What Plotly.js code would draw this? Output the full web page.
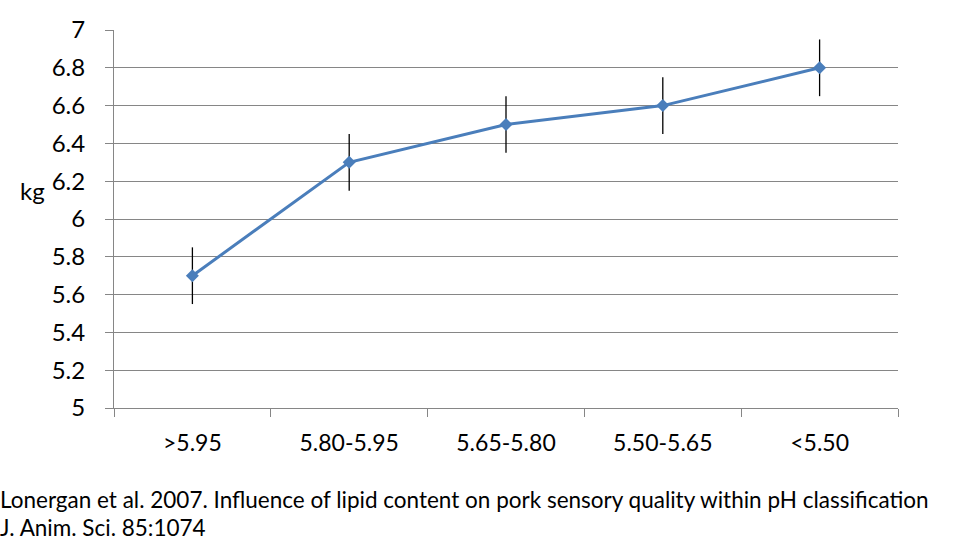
<!DOCTYPE html>
<html>
<head>
<meta charset="utf-8">
<script src="https://cdn.plot.ly/plotly-3.0.1.min.js"></script>
<style>
  html, body { margin: 0; padding: 0; background: #fff; }
  #chart { width: 973px; height: 540px; }
</style>
</head>
<body>
<div id="chart"></div>
<script>
const phClasses = ['>5.95', '5.80-5.95', '5.65-5.80', '5.50-5.65', '<5.50'];
const shearForce = [5.7, 6.3, 6.5, 6.6, 6.8];
const errorSize = [0.15, 0.15, 0.15, 0.15, 0.15];
const yTicks = [5, 5.2, 5.4, 5.6, 5.8, 6, 6.2, 6.4, 6.6, 6.8, 7];
const yTickText = ['5', '5.2', '5.4', '5.6', '5.8', '6', '6.2', '6.4', '6.6', '6.8', '7'];
const captionLines = [
  'Lonergan et al. 2007. Influence of lipid content on pork sensory quality within pH classification',
  'J. Anim. Sci. 85:1074'
];

const font = 'Lato, "Open Sans", sans-serif';

const series = {
  x: phClasses,
  y: shearForce,
  type: 'scatter',
  mode: 'lines+markers',
  line: { color: '#4A7EBB', width: 3 },
  marker: { symbol: 'diamond', size: 10, color: '#4A7EBB' },
  error_y: { type: 'data', array: errorSize, visible: true, color: '#000', thickness: 1.3, width: 0 },
  hoverinfo: 'x+y',
  showlegend: false
};

const layout = {
  width: 973,
  height: 540,
  margin: { l: 114, r: 75, t: 30, b: 132 },
  paper_bgcolor: '#fff',
  plot_bgcolor: '#fff',
  font: { family: font, size: 23, color: '#000' },
  xaxis: {
    type: 'category',
    range: [-0.5, 4.5],
    showgrid: false,
    showline: true,
    linecolor: '#868686',
    linewidth: 1,
    ticks: 'outside',
    tickson: 'boundaries',
    ticklen: 8,
    tickcolor: '#868686',
    ticklabelstandoff: 14,
    tickfont: { family: font, size: 23 },
    zeroline: false
  },
  yaxis: {
    range: [5, 7],
    tickvals: yTicks,
    ticktext: yTickText,
    showgrid: true,
    gridcolor: '#868686',
    gridwidth: 1,
    showline: true,
    linecolor: '#868686',
    ticks: 'outside',
    ticklen: 8,
    tickcolor: '#868686',
    ticklabelstandoff: 15,
    tickfont: { family: font, size: 24 },
    zeroline: false
  },
  annotations: [
    { text: 'kg', xref: 'paper', yref: 'paper', x: -0.086, y: 0.575, xanchor: 'right', yanchor: 'middle',
      showarrow: false, font: { family: font, size: 24 } },
    { text: captionLines[0], xref: 'paper', yref: 'paper', x: -0.148, y: -0.201, xanchor: 'left', yanchor: 'top',
      showarrow: false, font: { family: font, size: 22.5 } },
    { text: captionLines[1], xref: 'paper', yref: 'paper', x: -0.148, y: -0.275, xanchor: 'left', yanchor: 'top',
      showarrow: false, font: { family: font, size: 22.5 } }
  ]
};

Plotly.newPlot('chart', [series], layout, { displayModeBar: false, staticPlot: true });
</script>
</body>
</html>
